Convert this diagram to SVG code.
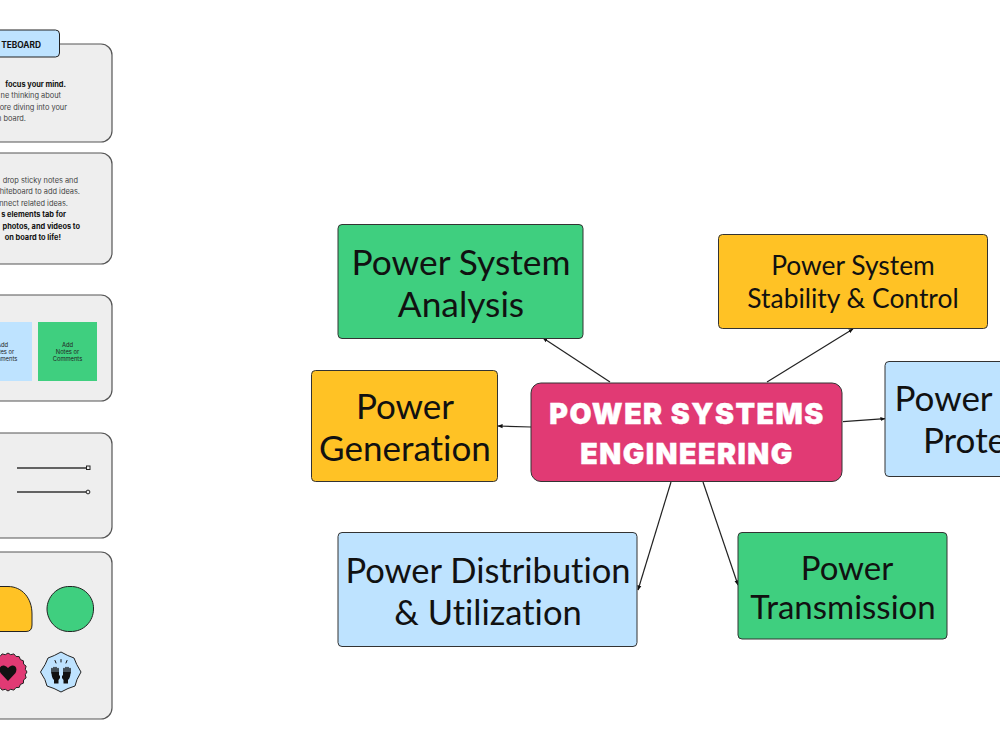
<svg xmlns="http://www.w3.org/2000/svg" width="1000" height="750" viewBox="0 0 1000 750">
<defs>
<marker id="arrow" viewBox="0 0 6 6" refX="5.500" refY="3" markerWidth="5" markerHeight="5" markerUnits="userSpaceOnUse" orient="auto"><path d="M0 0.500L6 3L0 5.500z" fill="#111"/></marker>
</defs>
<style>
.panel{fill:#eeeeee;stroke:#555;stroke-width:1.2}
.node{stroke:#333;stroke-width:1}
.green{fill:#3fcf7f}.yellow{fill:#ffc225}.blue{fill:#bee3ff}.pink{fill:#e13a74}
.label{font-family:Lato,"Liberation Sans",sans-serif;fill:#111;text-anchor:middle;font-variant-ligatures:none}
.small{font-family:Inter,"Liberation Sans",sans-serif;font-size:7.400px;fill:#444;text-anchor:end}
.strong{font-weight:700;fill:#111}
.conn{stroke:#222;stroke-width:1.2;fill:none;marker-end:url(#arrow)}
.title{font-family:Inter,"Liberation Sans",sans-serif;font-weight:900;font-size:28.500px;letter-spacing:1.500px;fill:#fff;stroke:#fff;stroke-width:.4;text-anchor:middle}
</style>
<g id="panel-1">
<rect class="panel" x="-60" y="44" width="172" height="98" rx="11"/>
<rect x="-60" y="30" width="119.500" height="27" rx="4" fill="#bee3ff" stroke="#222" stroke-width="1"/>
<text x="41" y="48" font-family="Inter,'Liberation Sans',sans-serif" font-size="8.300" font-weight="700" fill="#111" text-anchor="end">TEBOARD</text>
<text class="small strong" x="66" y="87">focus your mind.</text>
<text class="small" x="61" y="98">ne thinking about</text>
<text class="small" x="67" y="110">ore diving into your</text>
<text class="small" x="26" y="121">n board.</text>
</g>
<g id="panel-2">
<rect class="panel" x="-60" y="153" width="172" height="111" rx="11"/>
<text class="small" x="78" y="183">drop sticky notes and</text>
<text class="small" x="80" y="194">hiteboard to add ideas.</text>
<text class="small" x="68" y="206">nnect related ideas.</text>
<text class="small strong" x="66" y="217">s elements tab for</text>
<text class="small strong" x="80" y="229">photos, and videos to</text>
<text class="small strong" x="61" y="240">on board to life!</text>
</g>
<g id="panel-3">
<rect class="panel" x="-60" y="295" width="172" height="106" rx="11"/>
<rect x="-27" y="322" width="59" height="59" fill="#bee3ff"/>
<rect x="38" y="322" width="59" height="59" fill="#3fcf7f"/>
<g font-family="Inter,'Liberation Sans',sans-serif" font-size="5.800" fill="#222" text-anchor="middle">
<text x="2.500" y="347">Add</text><text x="2.500" y="354">Notes or</text><text x="2.500" y="361">Comments</text>
<text x="67.500" y="347">Add</text><text x="67.500" y="354">Notes or</text><text x="67.500" y="361">Comments</text>
</g>
</g>
<g id="panel-4">
<rect class="panel" x="-60" y="433" width="172" height="105" rx="11"/>
<line x1="17" y1="468" x2="87" y2="468" stroke="#333" stroke-width="1.500"/>
<rect x="86.500" y="466" width="3.500" height="3.500" fill="#eee" stroke="#222"/>
<line x1="17" y1="492" x2="87" y2="492" stroke="#333" stroke-width="1.300"/>
<circle cx="88" cy="492" r="1.900" fill="#eee" stroke="#222"/>
</g>
<g id="panel-5">
<rect class="panel" x="-60" y="552" width="172" height="167" rx="11"/>
<path d="M-10 586.500H8C22 586.500 32 598 32 614V625Q32 631.500 26 631.500H-10z" fill="#ffc225" stroke="#222" stroke-width="1"/>
<path d="M70 586.500C84 586 94 597 93.500 609C93.500 621 84 632 70 631.500C56 632 47 620 47 609C47 597 57 586 70 586.500z" fill="#3fcf7f" stroke="#222" stroke-width="1"/>
<path d="M27 672L25.300 669.300L26.100 666.100L23.600 664.100L23.400 660.800L20.400 659.600L19.200 656.600L15.900 656.400L13.900 653.900L10.700 654.700L8 653L5.300 654.700L2.100 653.900L0.100 656.400L-3.200 656.600L-3.200 687.400L0.100 687.600L2.100 690.100L5.300 689.300L8 691L10.700 689.300L13.900 690.100L15.900 687.600L19.200 687.400L20.400 684.400L23.400 683.200L23.600 679.900L26.100 677.900L25.300 674.700z" fill="#e13a74" stroke="#222" stroke-width="1" stroke-linejoin="round"/>
<path d="M8 681L0.500 673C-2 668 1 665 4 665.500Q6.500 666 8 668Q9.500 666 12 665.500C15 665 18 668 15.500 673z" fill="#111"/>
<path d="M61 652Q68 656 74 658Q76 664 81 672Q76 680 75 686Q68 688 61 692Q54 688 47 686Q46 680 40.500 672Q46 664 48 658Q54 656 61 652z" fill="#bee3ff" stroke="#222" stroke-width="1" stroke-linejoin="round"/>
<g stroke="#111" fill="none" stroke-linecap="round">
<path d="M52 673V668.500M54 673V667.500M56 673V667.500M58 673V668.500" stroke-width="1.400"/>
<path d="M70 673V668.500M68 673V667.500M66 673V667.500M64 673V668.500" stroke-width="1.400"/>
<path d="M56 663L55 660.500M61 662V659.500M66 663L67 660.500" stroke-width="1"/>
</g>
<path d="M51.500 672H59V676L60 675V678L58.500 680V683.500H54V680Q51.500 678 51.500 672zM70.500 672H63V676L62 675V678L63.500 680V683.500H68V680Q70.500 678 70.500 672z" fill="#111"/>
</g>
<g id="connectors">
<line class="conn" x1="610" y1="382" x2="543" y2="338"/>
<line class="conn" x1="767" y1="382" x2="853" y2="329"/>
<line class="conn" x1="531" y1="427" x2="498" y2="426"/>
<line class="conn" x1="843" y1="421.700" x2="885" y2="418.700"/>
<line class="conn" x1="671" y1="482" x2="638" y2="590"/>
<line class="conn" x1="703" y1="482" x2="738" y2="585"/>
</g>
<g id="node-analysis">
<rect class="node green" x="338" y="224.500" width="245" height="114" rx="4"/>
<text class="label" font-size="35.300"><tspan x="461" y="274.500">Power System</tspan><tspan x="461" y="316.500">Analysis</tspan></text>
</g>
<g id="node-stability">
<rect class="node yellow" x="718.500" y="234.500" width="269" height="94" rx="4"/>
<text class="label" font-size="26.400"><tspan x="853" y="275">Power System</tspan><tspan x="853" y="308">Stability &amp; Control</tspan></text>
</g>
<g id="node-generation">
<rect class="node yellow" x="311.500" y="370.500" width="186" height="111" rx="4"/>
<text class="label" font-size="35"><tspan x="405" y="418.500">Power</tspan><tspan x="405" y="460.500">Generation</tspan></text>
</g>
<g id="node-center">
<rect class="node pink" x="531" y="383" width="311" height="98.500" rx="10"/>
<text class="title"><tspan x="687" y="423.500">POWER SYSTEMS</tspan><tspan x="687" y="463.500">ENGINEERING</tspan></text>
</g>
<g id="node-protection">
<rect class="node blue" x="885" y="361.500" width="200" height="115" rx="4"/>
<text class="label" font-size="35"><tspan x="1003" y="411">Power System</tspan><tspan x="1003" y="453">Protection</tspan></text>
</g>
<g id="node-distribution">
<rect class="node blue" x="338" y="532.500" width="299" height="114" rx="4"/>
<text class="label" font-size="34.500"><tspan x="488" y="582.500">Power Distribution</tspan><tspan x="488" y="624.500">&amp; Utilization</tspan></text>
</g>
<g id="node-transmission">
<rect class="node green" x="738" y="532.500" width="209" height="106.500" rx="4"/>
<text class="label" font-size="33"><tspan x="847" y="579.500">Power</tspan><tspan x="843" y="618.500">Transmission</tspan></text>
</g>
</svg>
